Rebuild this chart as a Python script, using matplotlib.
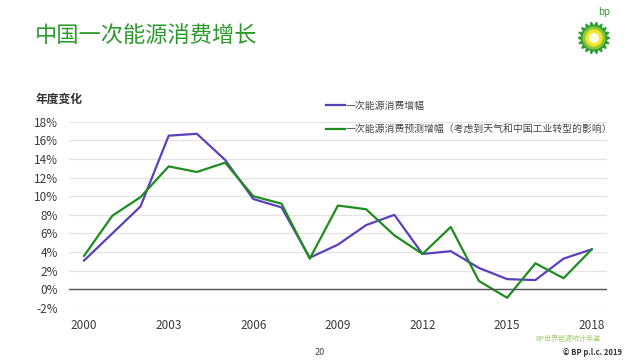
import numpy as np
import matplotlib.pyplot as plt
from matplotlib.patches import Polygon, Circle

plt.rcParams['font.family'] = ['Noto Sans CJK SC', 'DejaVu Sans']

# data
years = list(range(2000, 2019))
actual = [3.1, 6.0, 8.9, 16.5, 16.7, 13.9, 9.7, 8.8, 3.4, 4.8, 6.9, 8.0, 3.8, 4.1, 2.3, 1.1, 1.0, 3.3, 4.3]
adjusted = [3.6, 7.9, 9.9, 13.2, 12.6, 13.6, 10.0, 9.2, 3.3, 9.0, 8.6, 5.8, 3.8, 6.7, 0.9, -0.9, 2.8, 1.2, 4.3]
xticks = [2000, 2003, 2006, 2009, 2012, 2015, 2018]
yticks = list(range(-2, 19, 2))

purple = '#5a3fbe'
green = '#1e8c1e'

fig = plt.figure(figsize=(6.4, 3.6), dpi=100)
ax = fig.add_axes([0.108, 0.1444, 0.840, 0.5176])

l1, = ax.plot(years, actual, color=purple, lw=1.6)
l2, = ax.plot(years, adjusted, color=green, lw=1.6)

ax.set_xlim(1999.47, 2018.53)
ax.set_ylim(-2, 18)
ax.set_xticks(xticks)
ax.set_yticks(yticks)
ax.set_yticklabels([f'{v}%' for v in yticks])
ax.grid(axis='y', color='#e3e3e3', lw=0.9)
ax.axhline(0, color='#555555', lw=1.0)
for s in ax.spines.values():
    s.set_visible(False)
ax.tick_params(length=0, labelsize=8.5, labelcolor='#3a3a3a')
ax.tick_params(axis='x', pad=8)
ax.tick_params(axis='y', pad=8)
ax.set_axisbelow(True)

leg = fig.legend([l1, l2], ['一次能源消费增幅', '一次能源消费预测增幅（考虑到天气和中国工业转型的影响）'],
                 loc='upper left', bbox_to_anchor=(0.496, 0.745), frameon=False,
                 fontsize=7.1, handlelength=1.9, handletextpad=0.05, labelspacing=1.35)
for t in leg.get_texts():
    t.set_color('#444444')

fig.text(0.055, 0.900, '中国一次能源消费增长', fontsize=16, color='#2b9a2b', va='center')
fig.text(0.056, 0.725, '年度变化', fontsize=8.5, color='#333333', va='center', fontweight='bold')

fig.text(0.5, 0.015, '20', fontsize=6.5, color='#444444', ha='center')
fig.text(0.938, 0.052, 'BP世界能源统计年鉴', fontsize=5, color='#9ccf6a', ha='right')
fig.text(0.972, 0.015, '© BP p.l.c. 2019', fontsize=5.5, color='#333333', ha='right', fontweight='bold')

# bp helios logo
lax = fig.add_axes([0.903, 0.850, 0.05, 0.089])
lax.set_xlim(-1, 1)
lax.set_ylim(-1, 1)
lax.set_aspect('equal')
lax.axis('off')
n = 18
ang = np.linspace(0, 2 * np.pi, 2 * n, endpoint=False)
rad = np.where(np.arange(2 * n) % 2 == 0, 1.0, 0.72)
lax.add_patch(Polygon(np.c_[rad * np.cos(ang), rad * np.sin(ang)], color='#2e9e32'))
lax.add_patch(Circle((0, 0), 0.68, color='#8cc63f'))
lax.add_patch(Circle((0, 0), 0.5, color='#f5e625'))
lax.add_patch(Circle((0, 0), 0.28, color='#fffbe0'))
fig.text(0.944, 0.966, 'bp', fontsize=7, color='#2e9e32', ha='center', va='center')

fig.savefig('out.png', dpi=100)
